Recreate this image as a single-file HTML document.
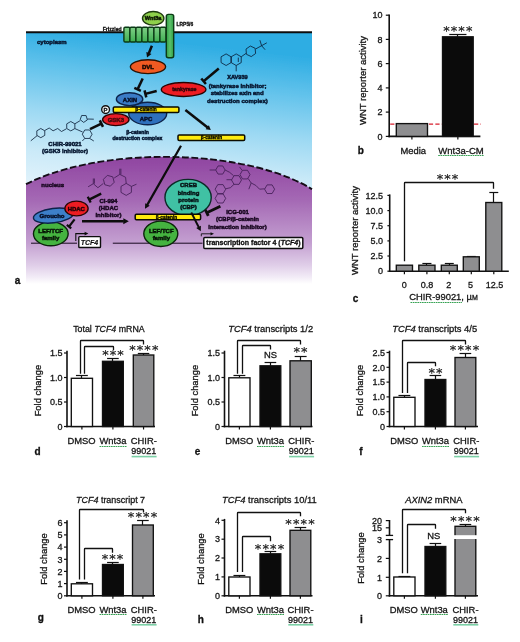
<!DOCTYPE html>
<html lang="en">
<head>
<meta charset="utf-8">
<title>WNT signalling and TCF4 transcripts</title>
<style>
html,body{margin:0;padding:0;background:#fff;}
body{width:520px;height:642px;overflow:hidden;}
svg{display:block;font-family:"Liberation Sans", sans-serif;}
</style>
</head>
<body>
<svg width="520" height="642" viewBox="0 0 520 642">
<rect x="0" y="0" width="520" height="642" fill="#ffffff"/>
<defs>
<linearGradient id="gCyto" x1="0.2" y1="0" x2="0" y2="1">
<stop offset="0" stop-color="#2eade3"/><stop offset="0.25" stop-color="#66c4ec"/><stop offset="0.5" stop-color="#9dd9f3"/><stop offset="0.75" stop-color="#cbeaf8"/><stop offset="1" stop-color="#e7f5fc"/>
</linearGradient>
<linearGradient id="gNuc" x1="0" y1="156" x2="0" y2="284" gradientUnits="userSpaceOnUse">
<stop offset="0" stop-color="#8f44a0"/><stop offset="0.34" stop-color="#a468b4"/><stop offset="0.68" stop-color="#c4a0d1"/><stop offset="0.85" stop-color="#dfcde8"/><stop offset="0.95" stop-color="#f3edf7"/><stop offset="1" stop-color="#ffffff"/>
</linearGradient>
<linearGradient id="gLrp" x1="0" y1="0" x2="1" y2="0">
<stop offset="0" stop-color="#2f9e44"/><stop offset="0.5" stop-color="#5cc06a"/><stop offset="1" stop-color="#2f9e44"/>
</linearGradient>
<linearGradient id="gFz" x1="0" y1="0" x2="0" y2="1">
<stop offset="0" stop-color="#7fcf86"/><stop offset="1" stop-color="#3fae52"/>
</linearGradient>
<filter id="soft" x="-5%" y="-5%" width="110%" height="110%"><feGaussianBlur stdDeviation="0.4"/></filter>
</defs>
<g id="panel-a" filter="url(#soft)">
<rect x="26" y="32" width="286" height="160" fill="url(#gCyto)"/>
<path d="M26 184.2 A175 70.2 0 0 1 312 189.2 L312 284 L26 284 Z" fill="url(#gNuc)"/>
<path d="M26 184.2 A175 70.2 0 0 1 312 189.2" fill="none" stroke="#140c18" stroke-width="1.9" stroke-dasharray="6.8 2.6"/>
<line x1="26" y1="32.2" x2="312" y2="32.2" stroke="#0c0c0c" stroke-width="1.9" />
<rect x="123.90" y="27.2" width="6.1" height="14.8" rx="1.3" fill="url(#gFz)" stroke="#0c3a14" stroke-width="1.4"/>
<rect x="129.90" y="27.2" width="6.1" height="14.8" rx="1.3" fill="url(#gFz)" stroke="#0c3a14" stroke-width="1.4"/>
<rect x="135.90" y="27.2" width="6.1" height="14.8" rx="1.3" fill="url(#gFz)" stroke="#0c3a14" stroke-width="1.4"/>
<rect x="141.90" y="27.2" width="6.1" height="14.8" rx="1.3" fill="url(#gFz)" stroke="#0c3a14" stroke-width="1.4"/>
<rect x="147.90" y="27.2" width="6.1" height="14.8" rx="1.3" fill="url(#gFz)" stroke="#0c3a14" stroke-width="1.4"/>
<rect x="153.90" y="27.2" width="6.1" height="14.8" rx="1.3" fill="url(#gFz)" stroke="#0c3a14" stroke-width="1.4"/>
<rect x="159.90" y="27.2" width="6.1" height="14.8" rx="1.3" fill="url(#gFz)" stroke="#0c3a14" stroke-width="1.4"/>
<rect x="166.3" y="14.4" width="7.4" height="43.4" rx="2" fill="url(#gLrp)" stroke="#0c3a14" stroke-width="1.4"/>
<ellipse cx="153.2" cy="18.3" rx="10.7" ry="6.8" fill="#8ed04b" stroke="#1f3a0e" stroke-width="1.4"/>
<text x="153.1" y="20" font-size="5.6" text-anchor="middle" font-weight="bold" fill="#0e1a04" stroke="#0e1a04" stroke-width="0.5">Wnt3a</text>
<text x="121.6" y="30.6" font-size="5.1" text-anchor="end" font-weight="bold" fill="#111" stroke="#111" stroke-width="0.3">Frizzled</text>
<text x="176.6" y="26.4" font-size="4.9" text-anchor="start" font-weight="bold" fill="#111" stroke="#111" stroke-width="0.3">LRP5/6</text>
<text x="37" y="44" font-size="6" text-anchor="start" font-weight="bold" fill="#081a34" stroke="#081a34" stroke-width="0.5">cytoplasm</text>
<line x1="151.9" y1="45.8" x2="148.73" y2="53.44" stroke="#0c0c0c" stroke-width="2.5" />
<polygon points="147.00,57.60 146.33,51.91 151.50,54.06" fill="#0c0c0c"/>
<ellipse cx="148" cy="66.7" rx="17.6" ry="6.9" fill="#f15a22" stroke="#2a1206" stroke-width="1.4"/>
<text x="148" y="68.8" font-size="6" text-anchor="middle" font-weight="bold" fill="#1c0a02" stroke="#1c0a02" stroke-width="0.5">DVL</text>
<line x1="142.7" y1="78.5" x2="137.6" y2="89.4" stroke="#0c0c0c" stroke-width="2.5" />
<line x1="134.34" y1="87.87" x2="140.86" y2="90.93" stroke="#0c0c0c" stroke-width="2.5" />
<ellipse cx="183.6" cy="89.5" rx="22.3" ry="7.0" fill="#ed1c24" stroke="#2a0606" stroke-width="1.4"/>
<text x="184.4" y="91.2" font-size="5.2" text-anchor="middle" font-weight="bold" fill="#3a0608" stroke="#3a0608" stroke-width="0.5">tankyrase</text>
<line x1="156.7" y1="91" x2="145.4" y2="93.9" stroke="#0c0c0c" stroke-width="2.5" />
<line x1="144.51" y1="90.41" x2="146.29" y2="97.39" stroke="#0c0c0c" stroke-width="2.5" />
<ellipse cx="147.7" cy="113.5" rx="19.0" ry="11.3" fill="#2e6fbd" stroke="#0c2248" stroke-width="1.4"/>
<ellipse cx="129.6" cy="99.2" rx="13.2" ry="6.4" fill="#3b7cc6" stroke="#0c2248" stroke-width="1.4"/>
<text x="130" y="101.5" font-size="6" text-anchor="middle" font-weight="bold" fill="#06122a" stroke="#06122a" stroke-width="0.5">AXIN</text>
<text x="146" y="120.7" font-size="6" text-anchor="middle" font-weight="bold" fill="#06122a" stroke="#06122a" stroke-width="0.5">APC</text>
<ellipse cx="115.8" cy="119.6" rx="13.2" ry="6.0" fill="#e81f27" stroke="#2a0606" stroke-width="1.4"/>
<text x="115.8" y="121.8" font-size="6" text-anchor="middle" font-weight="bold" fill="#4a080c" stroke="#4a080c" stroke-width="0.5">GSK3</text>
<rect x="113.3" y="106.9" width="65.60000000000001" height="5.599999999999994" fill="#ffeb0a" stroke="#0a0a00" stroke-width="1.5" rx="1.2"/>
<text x="146" y="111.4" font-size="4.8" text-anchor="middle" font-weight="bold" fill="#0c0c00" stroke="#0c0c00" stroke-width="0.3">β-catenin</text>
<ellipse cx="105.6" cy="109.6" rx="3.9" ry="3.9" fill="#fff" stroke="#111" stroke-width="1.4"/>
<text x="105.6" y="111.8" font-size="6" text-anchor="middle" font-weight="bold" fill="#111" stroke="#111" stroke-width="0.3">P</text>
<text x="137.6" y="133.6" font-size="5.1" text-anchor="middle" font-weight="bold" fill="#081a34" stroke="#081a34" stroke-width="0.5">β-catenin</text>
<text x="137.4" y="140" font-size="5.1" text-anchor="middle" font-weight="bold" fill="#081a34" stroke="#081a34" stroke-width="0.5">destruction complex</text>
<text x="65" y="145.9" font-size="6" text-anchor="middle" font-weight="bold" fill="#081a34" stroke="#081a34" stroke-width="0.5">CHIR-99021</text>
<text x="65" y="152.9" font-size="6" text-anchor="middle" font-weight="bold" fill="#081a34" stroke="#081a34" stroke-width="0.5">(GSK3 inhibitor)</text>
<line x1="90" y1="129.2" x2="101.4" y2="123.6" stroke="#0c0c0c" stroke-width="2.5" />
<line x1="102.99" y1="126.83" x2="99.81" y2="120.37" stroke="#0c0c0c" stroke-width="2.5" />
<text x="237.4" y="79.3" font-size="5.6" text-anchor="middle" font-weight="bold" fill="#081a34" stroke="#081a34" stroke-width="0.5">XAV939</text>
<text x="237.6" y="88.2" font-size="6" text-anchor="middle" font-weight="bold" fill="#081a34" stroke="#081a34" stroke-width="0.5">(tankyrase inhibitor;</text>
<text x="237.2" y="94.8" font-size="6" text-anchor="middle" font-weight="bold" fill="#081a34" stroke="#081a34" stroke-width="0.5">stabilizes axin and</text>
<text x="237.4" y="102.5" font-size="6" text-anchor="middle" font-weight="bold" fill="#081a34" stroke="#081a34" stroke-width="0.5">destruction complex)</text>
<line x1="218.8" y1="68.5" x2="203.6" y2="81.2" stroke="#0c0c0c" stroke-width="2.5" />
<line x1="201.29" y1="78.44" x2="205.91" y2="83.96" stroke="#0c0c0c" stroke-width="2.5" />
<line x1="185.4" y1="110" x2="207.66" y2="127.53" stroke="#0c0c0c" stroke-width="2.5" />
<polygon points="210.80,130.00 205.66,129.26 208.87,125.17" fill="#0c0c0c"/>
<rect x="178" y="134.9" width="66.69999999999999" height="5.599999999999994" fill="#ffeb0a" stroke="#0a0a00" stroke-width="1.5" rx="1.2"/>
<text x="211.5" y="139.4" font-size="4.8" text-anchor="middle" font-weight="bold" fill="#0c0c00" stroke="#0c0c00" stroke-width="0.3">β-catenin</text>
<line x1="181" y1="145.8" x2="147.23" y2="204.89" stroke="#0c0c0c" stroke-width="2.2" />
<polygon points="145.00,208.80 145.22,203.17 149.74,205.75" fill="#0c0c0c"/>
<text x="41.3" y="186.6" font-size="6" text-anchor="start" font-weight="bold" fill="#1c0a24" stroke="#1c0a24" stroke-width="0.5">nucleus</text>
<line x1="31" y1="243.2" x2="77" y2="243.2" stroke="#1a0a20" stroke-width="1.0" />
<line x1="112.8" y1="243.2" x2="202.5" y2="243.2" stroke="#1a0a20" stroke-width="1.0" />
<ellipse cx="50.8" cy="233.8" rx="17.35" ry="11.95" fill="#45b340" stroke="#0a240a" stroke-width="1.4"/>
<ellipse cx="53.5" cy="215.6" rx="20.2" ry="7.2" fill="#3c7fc9" stroke="#0c2248" stroke-width="1.4" transform="rotate(-7 53.5 215.6)"/>
<ellipse cx="76.5" cy="208.5" rx="11.6" ry="7.4" fill="#ed1c24" stroke="#2a0606" stroke-width="1.4"/>
<text x="76.3" y="210.5" font-size="6" text-anchor="middle" font-weight="bold" fill="#2a0406" stroke="#2a0406" stroke-width="0.5">HDAC</text>
<text x="52" y="218.2" font-size="6" text-anchor="middle" font-weight="bold" fill="#06122a" stroke="#06122a" stroke-width="0.5">Groucho</text>
<text x="50.6" y="232.6" font-size="6" text-anchor="middle" font-weight="bold" fill="#061606" stroke="#061606" stroke-width="0.5">LEF/TCF</text>
<text x="50.6" y="239.8" font-size="6" text-anchor="middle" font-weight="bold" fill="#061606" stroke="#061606" stroke-width="0.5">family</text>
<line x1="101.2" y1="193.6" x2="89.2" y2="199.6" stroke="#0c0c0c" stroke-width="2.3" />
<line x1="87.77" y1="196.74" x2="90.63" y2="202.46" stroke="#0c0c0c" stroke-width="2.3" />
<line x1="74.6" y1="219.4" x2="69" y2="226.6" stroke="#0c0c0c" stroke-width="2.2" />
<line x1="66.79" y1="224.88" x2="71.21" y2="228.32" stroke="#0c0c0c" stroke-width="2.2" />
<rect x="78.8" y="236.6" width="21.700000000000003" height="10.900000000000006" fill="#fff" stroke="#111" stroke-width="1.4" rx="0.8"/>
<text x="89.4" y="244.7" font-size="7" text-anchor="middle" font-weight="bold" font-style="italic" fill="#111" stroke="#111" stroke-width="0.15">TCF4</text>
<path d="M75.8 241 V233.6 H85.5" fill="none" stroke="#111" stroke-width="1.1"/>
<polygon points="88.4,233.6 84.6,231.8 84.6,235.4" fill="#111"/>
<line x1="82" y1="221.3" x2="123.8" y2="221.3" stroke="#0c0c0c" stroke-width="2.5" />
<polygon points="128.80,221.30 123.30,224.30 123.30,218.30" fill="#0c0c0c"/>
<text x="108.4" y="202.6" font-size="6" text-anchor="middle" font-weight="bold" fill="#1c0a24" stroke="#1c0a24" stroke-width="0.5">CI-994</text>
<text x="108.4" y="210" font-size="6" text-anchor="middle" font-weight="bold" fill="#1c0a24" stroke="#1c0a24" stroke-width="0.5">(HDAC</text>
<text x="108.4" y="217.4" font-size="6" text-anchor="middle" font-weight="bold" fill="#1c0a24" stroke="#1c0a24" stroke-width="0.5">inhibitor)</text>
<ellipse cx="160.8" cy="233.8" rx="17.0" ry="12.7" fill="#45b340" stroke="#0a240a" stroke-width="1.4"/>
<text x="161.3" y="232.6" font-size="6" text-anchor="middle" font-weight="bold" fill="#061606" stroke="#061606" stroke-width="0.5">LEF/TCF</text>
<text x="161.3" y="239.8" font-size="6" text-anchor="middle" font-weight="bold" fill="#061606" stroke="#061606" stroke-width="0.5">family</text>
<ellipse cx="188.1" cy="197.5" rx="23.15" ry="18.15" fill="#3fc1a4" stroke="#0c2c28" stroke-width="1.4"/>
<text x="188.5" y="187.1" font-size="6" text-anchor="middle" font-weight="bold" fill="#06181a" stroke="#06181a" stroke-width="0.5">CREB</text>
<text x="188.5" y="194.6" font-size="6" text-anchor="middle" font-weight="bold" fill="#06181a" stroke="#06181a" stroke-width="0.5">binding</text>
<text x="188.5" y="202.1" font-size="6" text-anchor="middle" font-weight="bold" fill="#06181a" stroke="#06181a" stroke-width="0.5">protein</text>
<text x="188.5" y="209.1" font-size="6" text-anchor="middle" font-weight="bold" fill="#06181a" stroke="#06181a" stroke-width="0.5">(CBP)</text>
<rect x="135.2" y="214.2" width="65.4" height="5.5" fill="#ffeb0a" stroke="#0a0a00" stroke-width="1.5" rx="1.2"/>
<text x="166.5" y="218.8" font-size="4.8" text-anchor="middle" font-weight="bold" fill="#0c0c00" stroke="#0c0c00" stroke-width="0.3">β-catenin</text>
<line x1="191.3" y1="212.5" x2="198.77" y2="227.28" stroke="#0c0c0c" stroke-width="1.9" />
<polygon points="200.80,231.30 196.22,228.01 200.87,225.66" fill="#0c0c0c"/>
<line x1="220.4" y1="206.2" x2="206.8" y2="212.8" stroke="#0c0c0c" stroke-width="2.8" />
<line x1="205.32" y1="209.74" x2="208.28" y2="215.86" stroke="#0c0c0c" stroke-width="2.8" />
<text x="237.5" y="213.9" font-size="6" text-anchor="middle" font-weight="bold" fill="#1c0a24" stroke="#1c0a24" stroke-width="0.5">ICG-001</text>
<text x="237.5" y="221.4" font-size="6" text-anchor="middle" font-weight="bold" fill="#1c0a24" stroke="#1c0a24" stroke-width="0.5">(CBP/β-catenin</text>
<text x="237.5" y="228.9" font-size="6" text-anchor="middle" font-weight="bold" fill="#1c0a24" stroke="#1c0a24" stroke-width="0.5">interaction inhibitor)</text>
<rect x="203.8" y="237.4" width="99.0" height="11.0" fill="#fff" stroke="#111" stroke-width="1.5" rx="1"/>
<text x="253.4" y="245.3" font-size="7" text-anchor="middle" font-weight="bold" stroke="#111" stroke-width="0.3" fill="#111" >transcription factor 4 (<tspan font-style="italic">TCF4</tspan>)</text>
<path d="M201.3 236.3 V233.8 H211" fill="none" stroke="#111" stroke-width="0.9"/>
<polygon points="214,233.8 210.5,232.2 210.5,235.4" fill="#111"/>
<polygon points="44.78,135.40 40.80,137.70 36.82,135.40 36.82,130.80 40.80,128.50 44.78,130.80" fill="none" stroke="#081a34" stroke-width="0.8"/>
<polyline points="37.2,135.6 30.8,140.8" fill="none" stroke="#081a34" stroke-width="0.8"/>
<polyline points="44.6,130.6 49.2,128 53.1,130.8 57.7,128.5 61.5,131.5 66.4,128.8" fill="none" stroke="#081a34" stroke-width="0.8"/>
<polygon points="74.87,128.55 70.80,130.90 66.73,128.55 66.73,123.85 70.80,121.50 74.87,123.85" fill="none" stroke="#081a34" stroke-width="0.8"/>
<polyline points="74.9,123.8 80.2,120.6" fill="none" stroke="#081a34" stroke-width="0.8"/>
<polygon points="87.37,119.90 83.67,122.40 80.15,119.65 81.68,115.45 86.14,115.61" fill="none" stroke="#081a34" stroke-width="0.8"/>
<polyline points="87.4,119 93.8,119.2" fill="none" stroke="#081a34" stroke-width="0.8"/>
<polyline points="74.9,128.6 82.6,132" fill="none" stroke="#081a34" stroke-width="0.8"/>
<polygon points="92.10,134.20 89.65,138.44 84.75,138.44 82.30,134.20 84.75,129.96 89.65,129.96" fill="none" stroke="#081a34" stroke-width="0.8"/>
<polyline points="89.6,138.4 93.8,141" fill="none" stroke="#081a34" stroke-width="0.8"/>
<polyline points="84.8,138.4 82.3,141" fill="none" stroke="#081a34" stroke-width="0.8"/>
<polygon points="231.12,62.60 226.10,65.50 221.08,62.60 221.08,56.80 226.10,53.90 231.12,56.80" fill="none" stroke="#081a34" stroke-width="0.8"/>
<polygon points="241.22,62.60 236.20,65.50 231.18,62.60 231.18,56.80 236.20,53.90 241.22,56.80" fill="none" stroke="#081a34" stroke-width="0.8"/>
<polyline points="236.2,65.5 236.2,71.3" fill="none" stroke="#081a34" stroke-width="0.8"/>
<polyline points="241.2,56.8 246,53.4" fill="none" stroke="#081a34" stroke-width="0.8"/>
<polygon points="255.60,53.54 251.26,56.58 246.46,54.34 246.00,49.06 250.34,46.02 255.14,48.26" fill="none" stroke="#081a34" stroke-width="0.8"/>
<polyline points="238.3,57.6 238.3,62" fill="none" stroke="#081a34" stroke-width="0.8"/>
<polyline points="255.6,49 261.6,45.7" fill="none" stroke="#081a34" stroke-width="0.8"/>
<polyline points="261.6,45.7 259.9,40.2" fill="none" stroke="#081a34" stroke-width="0.8"/>
<polyline points="261.6,45.7 266.8,42.8" fill="none" stroke="#081a34" stroke-width="0.8"/>
<polyline points="261.6,45.7 265.1,49.7" fill="none" stroke="#081a34" stroke-width="0.8"/>
<polyline points="88.1,186.8 93.3,183.7 97.9,187.7 103.4,183.4" fill="none" stroke="#3d1a50" stroke-width="0.8"/>
<polyline points="93.3,183.7 93.3,178.5" fill="none" stroke="#3d1a50" stroke-width="0.8"/>
<polyline points="94.4,183.7 94.4,178.5" fill="none" stroke="#3d1a50" stroke-width="0.8"/>
<polygon points="114.21,182.25 110.25,186.21 104.84,184.76 103.39,179.35 107.35,175.39 112.76,176.84" fill="none" stroke="#3d1a50" stroke-width="0.8"/>
<polyline points="114.2,178 119.8,174.4 125.6,177.3 126.2,183.4" fill="none" stroke="#3d1a50" stroke-width="0.8"/>
<polyline points="119.8,174.4 119.8,168.7" fill="none" stroke="#3d1a50" stroke-width="0.8"/>
<polyline points="120.9,174.4 120.9,168.7" fill="none" stroke="#3d1a50" stroke-width="0.8"/>
<polygon points="131.40,192.40 126.20,195.40 121.00,192.40 121.00,186.40 126.20,183.40 131.40,186.40" fill="none" stroke="#3d1a50" stroke-width="0.8"/>
<polyline points="131.4,186.4 136.5,184.2" fill="none" stroke="#3d1a50" stroke-width="0.8"/>
<polygon points="225.10,170.00 222.75,174.07 218.05,174.07 215.70,170.00 218.05,165.93 222.75,165.93" fill="none" stroke="#3d1a50" stroke-width="0.8"/>
<polyline points="215.7,170 209.6,170" fill="none" stroke="#3d1a50" stroke-width="0.8"/>
<polyline points="225.1,170 229.6,172.3 233.5,175.6" fill="none" stroke="#3d1a50" stroke-width="0.8"/>
<polygon points="241.50,180.00 239.00,184.33 234.00,184.33 231.50,180.00 234.00,175.67 239.00,175.67" fill="none" stroke="#3d1a50" stroke-width="0.8"/>
<polygon points="250.00,174.60 247.50,178.93 242.50,178.93 240.00,174.60 242.50,170.27 247.50,170.27" fill="none" stroke="#3d1a50" stroke-width="0.8"/>
<polyline points="231.5,179.7 226.5,179.7" fill="none" stroke="#3d1a50" stroke-width="0.8"/>
<polyline points="234,184.3 230.4,187.7 225.7,188.8" fill="none" stroke="#3d1a50" stroke-width="0.8"/>
<polygon points="225.70,189.20 223.05,193.79 217.75,193.79 215.10,189.20 217.75,184.61 223.05,184.61" fill="none" stroke="#3d1a50" stroke-width="0.8"/>
<polygon points="225.70,198.40 223.05,202.99 217.75,202.99 215.10,198.40 217.75,193.81 223.05,193.81" fill="none" stroke="#3d1a50" stroke-width="0.8"/>
<polyline points="242,170.3 239.6,166.9" fill="none" stroke="#3d1a50" stroke-width="0.8"/>
<polyline points="248.2,178.6 251.2,183 255.8,185.4 259.6,189.2 264.6,188.8" fill="none" stroke="#3d1a50" stroke-width="0.8"/>
<polyline points="251.2,183 248.8,189.2" fill="none" stroke="#3d1a50" stroke-width="0.8"/>
<polygon points="274.60,189.20 272.10,193.53 267.10,193.53 264.60,189.20 267.10,184.87 272.10,184.87" fill="none" stroke="#3d1a50" stroke-width="0.8"/>
</g>
<text x="17.6" y="284.3" font-size="10" text-anchor="middle" font-weight="bold" stroke="#111" stroke-width="0.3" fill="#111" >a</text>
<g id="panel-b">
<line x1="390.2" y1="124.1" x2="481" y2="124.1" stroke="#d71f2e" stroke-width="1.4" stroke-dasharray="4.2 2.25"/>
<line x1="389.2" y1="14.6" x2="389.2" y2="137.20000000000002" stroke="#111" stroke-width="1.6" />
<line x1="388.4" y1="136.4" x2="480.4" y2="136.4" stroke="#111" stroke-width="1.6" />
<line x1="385.8" y1="15.2" x2="389.2" y2="15.2" stroke="#111" stroke-width="1.2" />
<text x="382.5" y="18.4" font-size="9" text-anchor="end" stroke="#161616" stroke-width="0.3" fill="#161616" >10</text>
<line x1="385.8" y1="39.4" x2="389.2" y2="39.4" stroke="#111" stroke-width="1.2" />
<text x="382.5" y="42.6" font-size="9" text-anchor="end" stroke="#161616" stroke-width="0.3" fill="#161616" >8</text>
<line x1="385.8" y1="63.6" x2="389.2" y2="63.6" stroke="#111" stroke-width="1.2" />
<text x="382.5" y="66.8" font-size="9" text-anchor="end" stroke="#161616" stroke-width="0.3" fill="#161616" >6</text>
<line x1="385.8" y1="87.9" x2="389.2" y2="87.9" stroke="#111" stroke-width="1.2" />
<text x="382.5" y="91.10000000000001" font-size="9" text-anchor="end" stroke="#161616" stroke-width="0.3" fill="#161616" >4</text>
<line x1="385.8" y1="112.1" x2="389.2" y2="112.1" stroke="#111" stroke-width="1.2" />
<text x="382.5" y="115.3" font-size="9" text-anchor="end" stroke="#161616" stroke-width="0.3" fill="#161616" >2</text>
<line x1="385.8" y1="136.4" x2="389.2" y2="136.4" stroke="#111" stroke-width="1.2" />
<text x="382.5" y="139.6" font-size="9" text-anchor="end" stroke="#161616" stroke-width="0.3" fill="#161616" >0</text>
<rect x="396.3" y="123.6" width="31.19999999999999" height="12.800000000000011" fill="#8e8e90" stroke="#111" stroke-width="1.35" />
<line x1="411.9" y1="136.4" x2="411.9" y2="139.4" stroke="#111" stroke-width="1.2" />
<line x1="457.5" y1="34.0" x2="457.5" y2="36.8" stroke="#111" stroke-width="1.2" />
<line x1="449.254" y1="34.5" x2="466.446" y2="34.5" stroke="#111" stroke-width="1.2" />
<rect x="442.5" y="36.8" width="30.69999999999999" height="99.60000000000001" fill="#0b0b0b" stroke="#111" stroke-width="1.35" />
<line x1="457.85" y1="136.4" x2="457.85" y2="139.4" stroke="#111" stroke-width="1.2" />
<text x="366.3" y="80.5" font-size="9.4" text-anchor="middle" textLength="89" lengthAdjust="spacingAndGlyphs" stroke="#161616" stroke-width="0.3" fill="#161616" transform="rotate(-90 366.3 80.5)">WNT reporter activity</text>
<text x="360.8" y="154" font-size="10" text-anchor="middle" font-weight="bold" stroke="#111" stroke-width="0.3" fill="#111" >b</text>
<text x="458.35" y="35.0" font-family="DejaVu Sans, sans-serif" font-size="13" text-anchor="middle" letter-spacing="1.1" fill="#1c1c1c" stroke="#1c1c1c" stroke-width="0.2">****</text>
<text x="413.3" y="153.6" font-size="9.4" text-anchor="middle" textLength="25.5" lengthAdjust="spacingAndGlyphs" stroke="#161616" stroke-width="0.3" fill="#161616" >Media</text>
<text x="461" y="153.6" font-size="9.4" text-anchor="middle" textLength="45.5" lengthAdjust="spacingAndGlyphs" stroke="#161616" stroke-width="0.3" fill="#161616" >Wnt3a-CM</text>
<line x1="438.2" y1="155.5" x2="483.8" y2="155.5" stroke="#36a253" stroke-width="1.0" stroke-dasharray="1.7 0.6"/>
</g>
<g id="panel-c">
<line x1="389.7" y1="194.4" x2="389.7" y2="272.0" stroke="#111" stroke-width="1.6" />
<line x1="388.9" y1="271.2" x2="508.8" y2="271.2" stroke="#111" stroke-width="1.6" />
<line x1="387.4" y1="195.4" x2="389.7" y2="195.4" stroke="#111" stroke-width="1.2" />
<text x="383.0" y="198.6" font-size="9" text-anchor="end" stroke="#161616" stroke-width="0.3" fill="#161616" >12.5</text>
<line x1="387.4" y1="210.6" x2="389.7" y2="210.6" stroke="#111" stroke-width="1.2" />
<text x="383.0" y="213.79999999999998" font-size="9" text-anchor="end" stroke="#161616" stroke-width="0.3" fill="#161616" >10.0</text>
<line x1="387.4" y1="225.7" x2="389.7" y2="225.7" stroke="#111" stroke-width="1.2" />
<text x="383.0" y="228.89999999999998" font-size="9" text-anchor="end" stroke="#161616" stroke-width="0.3" fill="#161616" >7.5</text>
<line x1="387.4" y1="240.9" x2="389.7" y2="240.9" stroke="#111" stroke-width="1.2" />
<text x="383.0" y="244.1" font-size="9" text-anchor="end" stroke="#161616" stroke-width="0.3" fill="#161616" >5.0</text>
<line x1="387.4" y1="256" x2="389.7" y2="256" stroke="#111" stroke-width="1.2" />
<text x="383.0" y="259.2" font-size="9" text-anchor="end" stroke="#161616" stroke-width="0.3" fill="#161616" >2.5</text>
<line x1="387.4" y1="271.2" x2="389.7" y2="271.2" stroke="#111" stroke-width="1.2" />
<text x="383.0" y="274.4" font-size="9" text-anchor="end" stroke="#161616" stroke-width="0.3" fill="#161616" >0</text>
<rect x="396.3" y="265.2" width="16.19999999999999" height="6.0" fill="#8e8e90" stroke="#111" stroke-width="1.35" />
<line x1="404.4" y1="271.2" x2="404.4" y2="274.2" stroke="#111" stroke-width="1.2" />
<line x1="426.5" y1="263.0" x2="426.5" y2="265.2" stroke="#111" stroke-width="1.2" />
<line x1="422.364" y1="263.5" x2="431.436" y2="263.5" stroke="#111" stroke-width="1.2" />
<rect x="418.8" y="265.2" width="16.19999999999999" height="6.0" fill="#8e8e90" stroke="#111" stroke-width="1.35" />
<line x1="426.9" y1="271.2" x2="426.9" y2="274.2" stroke="#111" stroke-width="1.2" />
<line x1="449.5" y1="263.0" x2="449.5" y2="265.2" stroke="#111" stroke-width="1.2" />
<line x1="444.82" y1="263.5" x2="453.78000000000003" y2="263.5" stroke="#111" stroke-width="1.2" />
<rect x="441.3" y="265.2" width="16.0" height="6.0" fill="#8e8e90" stroke="#111" stroke-width="1.35" />
<line x1="449.3" y1="271.2" x2="449.3" y2="274.2" stroke="#111" stroke-width="1.2" />
<line x1="471.5" y1="256.0" x2="471.5" y2="256.8" stroke="#111" stroke-width="1.2" />
<line x1="466.82" y1="256.5" x2="475.78000000000003" y2="256.5" stroke="#111" stroke-width="1.2" />
<rect x="463.3" y="256.8" width="16.0" height="14.399999999999977" fill="#8e8e90" stroke="#111" stroke-width="1.35" />
<line x1="471.3" y1="271.2" x2="471.3" y2="274.2" stroke="#111" stroke-width="1.2" />
<line x1="493.5" y1="192.0" x2="493.5" y2="202.5" stroke="#111" stroke-width="1.2" />
<line x1="489.32" y1="192.5" x2="498.28000000000003" y2="192.5" stroke="#111" stroke-width="1.2" />
<rect x="485.8" y="202.5" width="16.0" height="68.69999999999999" fill="#8e8e90" stroke="#111" stroke-width="1.35" />
<line x1="493.8" y1="271.2" x2="493.8" y2="274.2" stroke="#111" stroke-width="1.2" />
<text x="358.3" y="230.5" font-size="9.4" text-anchor="middle" textLength="89" lengthAdjust="spacingAndGlyphs" stroke="#161616" stroke-width="0.3" fill="#161616" transform="rotate(-90 358.3 230.5)">WNT reporter activity</text>
<text x="355.5" y="301.5" font-size="10" text-anchor="middle" font-weight="bold" stroke="#111" stroke-width="0.3" fill="#111" >c</text>
<path d="M404.5 261.3 V183.1 Q404.5 182.5 405.1 182.5 H492.9 Q493.5 182.5 493.5 183.1 V188.8" fill="none" stroke="#111" stroke-width="1.3"/>
<text x="448.05" y="182.5" font-family="DejaVu Sans, sans-serif" font-size="13" text-anchor="middle" letter-spacing="1.1" fill="#1c1c1c" stroke="#1c1c1c" stroke-width="0.2">***</text>
<text x="404.3" y="288" font-size="9" text-anchor="middle" stroke="#161616" stroke-width="0.3" fill="#161616" >0</text>
<text x="427" y="288" font-size="9" text-anchor="middle" stroke="#161616" stroke-width="0.3" fill="#161616" >0.8</text>
<text x="448.8" y="288" font-size="9" text-anchor="middle" stroke="#161616" stroke-width="0.3" fill="#161616" >2</text>
<text x="470.5" y="288" font-size="9" text-anchor="middle" stroke="#161616" stroke-width="0.3" fill="#161616" >5</text>
<text x="494.5" y="288" font-size="9" text-anchor="middle" stroke="#161616" stroke-width="0.3" fill="#161616" >12.5</text>
<text x="443.5" y="300.3" font-size="9.4" text-anchor="middle" stroke="#161616" stroke-width="0.3" fill="#161616" >CHIR-99021, µ<tspan font-size="7">M</tspan></text>
<line x1="410.5" y1="302.5" x2="462" y2="302.5" stroke="#36a253" stroke-width="1.0" stroke-dasharray="1.7 0.6"/>
</g>
<g id="panel-d">
<text x="108.9" y="332.2" font-size="9.4" text-anchor="middle" textLength="71.5" lengthAdjust="spacingAndGlyphs" stroke="#161616" stroke-width="0.3" fill="#161616" >Total <tspan font-style="italic">TCF4</tspan> mRNA</text>
<line x1="67" y1="350.7" x2="67" y2="427.3" stroke="#111" stroke-width="1.6" />
<line x1="66.2" y1="426.5" x2="155" y2="426.5" stroke="#111" stroke-width="1.6" />
<line x1="64" y1="353" x2="67" y2="353" stroke="#111" stroke-width="1.2" />
<text x="62.5" y="356.2" font-size="9" text-anchor="end" stroke="#161616" stroke-width="0.3" fill="#161616" >1.5</text>
<line x1="64" y1="377.5" x2="67" y2="377.5" stroke="#111" stroke-width="1.2" />
<text x="62.5" y="380.7" font-size="9" text-anchor="end" stroke="#161616" stroke-width="0.3" fill="#161616" >1.0</text>
<line x1="64" y1="402" x2="67" y2="402" stroke="#111" stroke-width="1.2" />
<text x="62.5" y="405.2" font-size="9" text-anchor="end" stroke="#161616" stroke-width="0.3" fill="#161616" >0.5</text>
<line x1="64" y1="426.5" x2="67" y2="426.5" stroke="#111" stroke-width="1.2" />
<text x="62.5" y="429.7" font-size="9" text-anchor="end" stroke="#161616" stroke-width="0.3" fill="#161616" >0</text>
<line x1="81.5" y1="375.0" x2="81.5" y2="378.3" stroke="#111" stroke-width="1.2" />
<line x1="75.964" y1="375.5" x2="87.83600000000001" y2="375.5" stroke="#111" stroke-width="1.2" />
<rect x="71.3" y="378.3" width="21.200000000000003" height="48.19999999999999" fill="#fff" stroke="#111" stroke-width="1.35" />
<line x1="81.9" y1="426.5" x2="81.9" y2="429.5" stroke="#111" stroke-width="1.2" />
<line x1="112.5" y1="358.0" x2="112.5" y2="361.3" stroke="#111" stroke-width="1.2" />
<line x1="107.07600000000001" y1="358.5" x2="118.724" y2="358.5" stroke="#111" stroke-width="1.2" />
<rect x="102.5" y="361.3" width="20.799999999999997" height="65.19999999999999" fill="#0b0b0b" stroke="#111" stroke-width="1.35" />
<line x1="112.9" y1="426.5" x2="112.9" y2="429.5" stroke="#111" stroke-width="1.2" />
<line x1="143.5" y1="353.0" x2="143.5" y2="355" stroke="#111" stroke-width="1.2" />
<line x1="137.81" y1="353.5" x2="149.29000000000002" y2="353.5" stroke="#111" stroke-width="1.2" />
<rect x="133.3" y="355" width="20.5" height="71.5" fill="#8e8e90" stroke="#111" stroke-width="1.35" />
<line x1="143.55" y1="426.5" x2="143.55" y2="429.5" stroke="#111" stroke-width="1.2" />
<text x="41" y="390.6" font-size="9.4" text-anchor="middle" textLength="51.5" lengthAdjust="spacingAndGlyphs" stroke="#161616" stroke-width="0.3" fill="#161616" transform="rotate(-90 41 390.6)">Fold change</text>
<text x="37.5" y="454.5" font-size="10" text-anchor="middle" font-weight="bold" stroke="#111" stroke-width="0.3" fill="#111" >d</text>
<path d="M80.5 373.8 V341.1 Q80.5 340.5 81.1 340.5 H142.9 Q143.5 340.5 143.5 341.1 V344.5" fill="none" stroke="#111" stroke-width="1.3"/>
<path d="M84.5 373.8 V347.1 Q84.5 346.5 85.1 346.5 H112.9 Q113.5 346.5 113.5 347.1 V350" fill="none" stroke="#111" stroke-width="1.3"/>
<text x="113.55" y="359.0" font-family="DejaVu Sans, sans-serif" font-size="13" text-anchor="middle" letter-spacing="1.1" fill="#1c1c1c" stroke="#1c1c1c" stroke-width="0.2">***</text>
<text x="144.35000000000002" y="354.3" font-family="DejaVu Sans, sans-serif" font-size="13" text-anchor="middle" letter-spacing="1.1" fill="#1c1c1c" stroke="#1c1c1c" stroke-width="0.2">****</text>
<text x="81.5" y="444.3" font-size="9.4" text-anchor="middle" stroke="#161616" stroke-width="0.3" fill="#161616" >DMSO</text>
<text x="113" y="444.3" font-size="9.4" text-anchor="middle" stroke="#161616" stroke-width="0.3" fill="#161616" >Wnt3a</text>
<text x="143.8" y="444.3" font-size="9.4" text-anchor="middle" stroke="#161616" stroke-width="0.3" fill="#161616" >CHIR-</text>
<text x="143.8" y="454.4" font-size="9" text-anchor="middle" stroke="#161616" stroke-width="0.3" fill="#161616" >99021</text>
<line x1="99.5" y1="446.5" x2="126.5" y2="446.5" stroke="#36a253" stroke-width="1.0" stroke-dasharray="1.7 0.6"/>
<line x1="131.60000000000002" y1="456.59999999999997" x2="156.60000000000002" y2="456.59999999999997" stroke="#7bd0a6" stroke-width="1.6" />
</g>
<g id="panel-e">
<text x="270.7" y="332" font-size="9.4" text-anchor="middle" stroke="#161616" stroke-width="0.3" fill="#161616" ><tspan font-style="italic">TCF4</tspan> transcripts 1/2</text>
<line x1="224.5" y1="350.7" x2="224.5" y2="427.3" stroke="#111" stroke-width="1.6" />
<line x1="223.7" y1="426.5" x2="312.5" y2="426.5" stroke="#111" stroke-width="1.6" />
<line x1="221.5" y1="353" x2="224.5" y2="353" stroke="#111" stroke-width="1.2" />
<text x="220.0" y="356.2" font-size="9" text-anchor="end" stroke="#161616" stroke-width="0.3" fill="#161616" >1.5</text>
<line x1="221.5" y1="377.5" x2="224.5" y2="377.5" stroke="#111" stroke-width="1.2" />
<text x="220.0" y="380.7" font-size="9" text-anchor="end" stroke="#161616" stroke-width="0.3" fill="#161616" >1.0</text>
<line x1="221.5" y1="402" x2="224.5" y2="402" stroke="#111" stroke-width="1.2" />
<text x="220.0" y="405.2" font-size="9" text-anchor="end" stroke="#161616" stroke-width="0.3" fill="#161616" >0.5</text>
<line x1="221.5" y1="426.5" x2="224.5" y2="426.5" stroke="#111" stroke-width="1.2" />
<text x="220.0" y="429.7" font-size="9" text-anchor="end" stroke="#161616" stroke-width="0.3" fill="#161616" >0</text>
<line x1="239.5" y1="375.0" x2="239.5" y2="377.8" stroke="#111" stroke-width="1.2" />
<line x1="233.464" y1="375.5" x2="245.336" y2="375.5" stroke="#111" stroke-width="1.2" />
<rect x="228.8" y="377.8" width="21.19999999999999" height="48.69999999999999" fill="#fff" stroke="#111" stroke-width="1.35" />
<line x1="239.4" y1="426.5" x2="239.4" y2="429.5" stroke="#111" stroke-width="1.2" />
<line x1="270.5" y1="362.0" x2="270.5" y2="365.8" stroke="#111" stroke-width="1.2" />
<line x1="264.57599999999996" y1="362.5" x2="276.224" y2="362.5" stroke="#111" stroke-width="1.2" />
<rect x="260" y="365.8" width="20.80000000000001" height="60.69999999999999" fill="#0b0b0b" stroke="#111" stroke-width="1.35" />
<line x1="270.4" y1="426.5" x2="270.4" y2="429.5" stroke="#111" stroke-width="1.2" />
<line x1="300.5" y1="356.0" x2="300.5" y2="360.8" stroke="#111" stroke-width="1.2" />
<line x1="294.686" y1="356.5" x2="306.614" y2="356.5" stroke="#111" stroke-width="1.2" />
<rect x="290" y="360.8" width="21.30000000000001" height="65.69999999999999" fill="#8e8e90" stroke="#111" stroke-width="1.35" />
<line x1="300.65" y1="426.5" x2="300.65" y2="429.5" stroke="#111" stroke-width="1.2" />
<text x="198.5" y="390.6" font-size="9.4" text-anchor="middle" textLength="51.5" lengthAdjust="spacingAndGlyphs" stroke="#161616" stroke-width="0.3" fill="#161616" transform="rotate(-90 198.5 390.6)">Fold change</text>
<text x="197.5" y="454.5" font-size="10" text-anchor="middle" font-weight="bold" stroke="#111" stroke-width="0.3" fill="#111" >e</text>
<path d="M237.5 373.8 V341.1 Q237.5 340.5 238.1 340.5 H299.9 Q300.5 340.5 300.5 341.1 V344.5" fill="none" stroke="#111" stroke-width="1.3"/>
<path d="M242.5 373.8 V346.1 Q242.5 345.5 243.1 345.5 H269.9 Q270.5 345.5 270.5 346.1 V349.5" fill="none" stroke="#111" stroke-width="1.3"/>
<text x="270.5" y="358.1" font-size="9.4" text-anchor="middle" stroke="#161616" stroke-width="0.3" fill="#161616" >NS</text>
<text x="301.05" y="355.8" font-family="DejaVu Sans, sans-serif" font-size="13" text-anchor="middle" letter-spacing="1.1" fill="#1c1c1c" stroke="#1c1c1c" stroke-width="0.2">**</text>
<text x="239.3" y="444.3" font-size="9.4" text-anchor="middle" stroke="#161616" stroke-width="0.3" fill="#161616" >DMSO</text>
<text x="270.5" y="444.3" font-size="9.4" text-anchor="middle" stroke="#161616" stroke-width="0.3" fill="#161616" >Wnt3a</text>
<text x="301.3" y="444.3" font-size="9.4" text-anchor="middle" stroke="#161616" stroke-width="0.3" fill="#161616" >CHIR-</text>
<text x="301.3" y="454.4" font-size="9" text-anchor="middle" stroke="#161616" stroke-width="0.3" fill="#161616" >99021</text>
<line x1="257.0" y1="446.5" x2="284.0" y2="446.5" stroke="#36a253" stroke-width="1.0" stroke-dasharray="1.7 0.6"/>
<line x1="289.1" y1="456.59999999999997" x2="314.1" y2="456.59999999999997" stroke="#7bd0a6" stroke-width="1.6" />
</g>
<g id="panel-f">
<text x="434.7" y="332" font-size="9.4" text-anchor="middle" stroke="#161616" stroke-width="0.3" fill="#161616" ><tspan font-style="italic">TCF4</tspan> transcripts 4/5</text>
<line x1="389.5" y1="350.7" x2="389.5" y2="427.3" stroke="#111" stroke-width="1.6" />
<line x1="388.7" y1="426.5" x2="478" y2="426.5" stroke="#111" stroke-width="1.6" />
<line x1="386.5" y1="352.5" x2="389.5" y2="352.5" stroke="#111" stroke-width="1.2" />
<text x="385.0" y="355.7" font-size="9" text-anchor="end" stroke="#161616" stroke-width="0.3" fill="#161616" >2.5</text>
<line x1="386.5" y1="367.3" x2="389.5" y2="367.3" stroke="#111" stroke-width="1.2" />
<text x="385.0" y="370.5" font-size="9" text-anchor="end" stroke="#161616" stroke-width="0.3" fill="#161616" >2.0</text>
<line x1="386.5" y1="382.1" x2="389.5" y2="382.1" stroke="#111" stroke-width="1.2" />
<text x="385.0" y="385.3" font-size="9" text-anchor="end" stroke="#161616" stroke-width="0.3" fill="#161616" >1.5</text>
<line x1="386.5" y1="396.9" x2="389.5" y2="396.9" stroke="#111" stroke-width="1.2" />
<text x="385.0" y="400.09999999999997" font-size="9" text-anchor="end" stroke="#161616" stroke-width="0.3" fill="#161616" >1.0</text>
<line x1="386.5" y1="411.7" x2="389.5" y2="411.7" stroke="#111" stroke-width="1.2" />
<text x="385.0" y="414.9" font-size="9" text-anchor="end" stroke="#161616" stroke-width="0.3" fill="#161616" >0.5</text>
<line x1="386.5" y1="426.5" x2="389.5" y2="426.5" stroke="#111" stroke-width="1.2" />
<text x="385.0" y="429.7" font-size="9" text-anchor="end" stroke="#161616" stroke-width="0.3" fill="#161616" >0</text>
<line x1="404.5" y1="395.0" x2="404.5" y2="397.3" stroke="#111" stroke-width="1.2" />
<line x1="398.464" y1="395.5" x2="410.33599999999996" y2="395.5" stroke="#111" stroke-width="1.2" />
<rect x="393.8" y="397.3" width="21.19999999999999" height="29.19999999999999" fill="#fff" stroke="#111" stroke-width="1.35" />
<line x1="404.4" y1="426.5" x2="404.4" y2="429.5" stroke="#111" stroke-width="1.2" />
<line x1="435.5" y1="375.0" x2="435.5" y2="379.5" stroke="#111" stroke-width="1.2" />
<line x1="429.57599999999996" y1="375.5" x2="441.224" y2="375.5" stroke="#111" stroke-width="1.2" />
<rect x="425" y="379.5" width="20.80000000000001" height="47.0" fill="#0b0b0b" stroke="#111" stroke-width="1.35" />
<line x1="435.4" y1="426.5" x2="435.4" y2="429.5" stroke="#111" stroke-width="1.2" />
<line x1="465.5" y1="353.0" x2="465.5" y2="357.5" stroke="#111" stroke-width="1.2" />
<line x1="459.57599999999996" y1="353.5" x2="471.224" y2="353.5" stroke="#111" stroke-width="1.2" />
<rect x="455" y="357.5" width="20.80000000000001" height="69.0" fill="#8e8e90" stroke="#111" stroke-width="1.35" />
<line x1="465.4" y1="426.5" x2="465.4" y2="429.5" stroke="#111" stroke-width="1.2" />
<text x="363" y="390.6" font-size="9.4" text-anchor="middle" textLength="51.5" lengthAdjust="spacingAndGlyphs" stroke="#161616" stroke-width="0.3" fill="#161616" transform="rotate(-90 363 390.6)">Fold change</text>
<text x="360.8" y="454.5" font-size="10" text-anchor="middle" font-weight="bold" stroke="#111" stroke-width="0.3" fill="#111" >f</text>
<path d="M402.5 393 V341.1 Q402.5 340.5 403.1 340.5 H464.9 Q465.5 340.5 465.5 341.1 V344.5" fill="none" stroke="#111" stroke-width="1.3"/>
<path d="M407.5 393 V363.1 Q407.5 362.5 408.1 362.5 H434.9 Q435.5 362.5 435.5 363.1 V366.3" fill="none" stroke="#111" stroke-width="1.3"/>
<text x="436.05" y="377.0" font-family="DejaVu Sans, sans-serif" font-size="13" text-anchor="middle" letter-spacing="1.1" fill="#1c1c1c" stroke="#1c1c1c" stroke-width="0.2">**</text>
<text x="465.05" y="354.3" font-family="DejaVu Sans, sans-serif" font-size="13" text-anchor="middle" letter-spacing="1.1" fill="#1c1c1c" stroke="#1c1c1c" stroke-width="0.2">****</text>
<text x="404.3" y="444.3" font-size="9.4" text-anchor="middle" stroke="#161616" stroke-width="0.3" fill="#161616" >DMSO</text>
<text x="435.5" y="444.3" font-size="9.4" text-anchor="middle" stroke="#161616" stroke-width="0.3" fill="#161616" >Wnt3a</text>
<text x="466.3" y="444.3" font-size="9.4" text-anchor="middle" stroke="#161616" stroke-width="0.3" fill="#161616" >CHIR-</text>
<text x="466.3" y="454.4" font-size="9" text-anchor="middle" stroke="#161616" stroke-width="0.3" fill="#161616" >99021</text>
<line x1="422.0" y1="446.5" x2="449.0" y2="446.5" stroke="#36a253" stroke-width="1.0" stroke-dasharray="1.7 0.6"/>
<line x1="454.1" y1="456.59999999999997" x2="479.1" y2="456.59999999999997" stroke="#7bd0a6" stroke-width="1.6" />
</g>
<g id="panel-g">
<text x="110.6" y="502.7" font-size="9.4" text-anchor="middle" textLength="69" lengthAdjust="spacingAndGlyphs" stroke="#161616" stroke-width="0.3" fill="#161616" ><tspan font-style="italic">TCF4</tspan> transcript 7</text>
<line x1="67" y1="520.1999999999999" x2="67" y2="596.5999999999999" stroke="#111" stroke-width="1.6" />
<line x1="66.2" y1="595.8" x2="155" y2="595.8" stroke="#111" stroke-width="1.6" />
<line x1="64" y1="522.7" x2="67" y2="522.7" stroke="#111" stroke-width="1.2" />
<text x="62.5" y="525.9000000000001" font-size="9" text-anchor="end" stroke="#161616" stroke-width="0.3" fill="#161616" >6</text>
<line x1="64" y1="534.9" x2="67" y2="534.9" stroke="#111" stroke-width="1.2" />
<text x="62.5" y="538.1" font-size="9" text-anchor="end" stroke="#161616" stroke-width="0.3" fill="#161616" >5</text>
<line x1="64" y1="547.1" x2="67" y2="547.1" stroke="#111" stroke-width="1.2" />
<text x="62.5" y="550.3000000000001" font-size="9" text-anchor="end" stroke="#161616" stroke-width="0.3" fill="#161616" >4</text>
<line x1="64" y1="559.3" x2="67" y2="559.3" stroke="#111" stroke-width="1.2" />
<text x="62.5" y="562.5" font-size="9" text-anchor="end" stroke="#161616" stroke-width="0.3" fill="#161616" >3</text>
<line x1="64" y1="571.4" x2="67" y2="571.4" stroke="#111" stroke-width="1.2" />
<text x="62.5" y="574.6" font-size="9" text-anchor="end" stroke="#161616" stroke-width="0.3" fill="#161616" >2</text>
<line x1="64" y1="583.6" x2="67" y2="583.6" stroke="#111" stroke-width="1.2" />
<text x="62.5" y="586.8000000000001" font-size="9" text-anchor="end" stroke="#161616" stroke-width="0.3" fill="#161616" >1</text>
<line x1="64" y1="595.8" x2="67" y2="595.8" stroke="#111" stroke-width="1.2" />
<text x="62.5" y="599.0" font-size="9" text-anchor="end" stroke="#161616" stroke-width="0.3" fill="#161616" >0</text>
<line x1="81.5" y1="582.0" x2="81.5" y2="583.8" stroke="#111" stroke-width="1.2" />
<line x1="75.964" y1="582.5" x2="87.83600000000001" y2="582.5" stroke="#111" stroke-width="1.2" />
<rect x="71.3" y="583.8" width="21.200000000000003" height="12.0" fill="#fff" stroke="#111" stroke-width="1.35" />
<line x1="81.9" y1="595.8" x2="81.9" y2="598.8" stroke="#111" stroke-width="1.2" />
<line x1="112.5" y1="562.0" x2="112.5" y2="564.5" stroke="#111" stroke-width="1.2" />
<line x1="107.07600000000001" y1="562.5" x2="118.724" y2="562.5" stroke="#111" stroke-width="1.2" />
<rect x="102.5" y="564.5" width="20.799999999999997" height="31.299999999999955" fill="#0b0b0b" stroke="#111" stroke-width="1.35" />
<line x1="112.9" y1="595.8" x2="112.9" y2="598.8" stroke="#111" stroke-width="1.2" />
<line x1="142.5" y1="520.0" x2="142.5" y2="525" stroke="#111" stroke-width="1.2" />
<line x1="137.076" y1="520.5" x2="148.72400000000002" y2="520.5" stroke="#111" stroke-width="1.2" />
<rect x="132.5" y="525" width="20.80000000000001" height="70.79999999999995" fill="#8e8e90" stroke="#111" stroke-width="1.35" />
<line x1="142.9" y1="595.8" x2="142.9" y2="598.8" stroke="#111" stroke-width="1.2" />
<text x="46.8" y="559" font-size="9.4" text-anchor="middle" textLength="51.5" lengthAdjust="spacingAndGlyphs" stroke="#161616" stroke-width="0.3" fill="#161616" transform="rotate(-90 46.8 559)">Fold change</text>
<text x="40.8" y="621" font-size="10" text-anchor="middle" font-weight="bold" stroke="#111" stroke-width="0.3" fill="#111" >g</text>
<path d="M79.5 579.5 V510.1 Q79.5 509.5 80.1 509.5 H142.9 Q143.5 509.5 143.5 510.1 V512.5" fill="none" stroke="#111" stroke-width="1.3"/>
<path d="M84.5 579.5 V549.1 Q84.5 548.5 85.1 548.5 H111.9 Q112.5 548.5 112.5 549.1 V552.8" fill="none" stroke="#111" stroke-width="1.3"/>
<text x="113.05" y="563.3" font-family="DejaVu Sans, sans-serif" font-size="13" text-anchor="middle" letter-spacing="1.1" fill="#1c1c1c" stroke="#1c1c1c" stroke-width="0.2">***</text>
<text x="143.05" y="521.3" font-family="DejaVu Sans, sans-serif" font-size="13" text-anchor="middle" letter-spacing="1.1" fill="#1c1c1c" stroke="#1c1c1c" stroke-width="0.2">****</text>
<text x="81.5" y="612.5" font-size="9.4" text-anchor="middle" stroke="#161616" stroke-width="0.3" fill="#161616" >DMSO</text>
<text x="113" y="612.5" font-size="9.4" text-anchor="middle" stroke="#161616" stroke-width="0.3" fill="#161616" >Wnt3a</text>
<text x="143.8" y="612.5" font-size="9.4" text-anchor="middle" stroke="#161616" stroke-width="0.3" fill="#161616" >CHIR-</text>
<text x="143.8" y="622.6" font-size="9" text-anchor="middle" stroke="#161616" stroke-width="0.3" fill="#161616" >99021</text>
<line x1="99.5" y1="614.5" x2="126.5" y2="614.5" stroke="#36a253" stroke-width="1.0" stroke-dasharray="1.7 0.6"/>
<line x1="131.60000000000002" y1="624.8000000000001" x2="156.60000000000002" y2="624.8000000000001" stroke="#7bd0a6" stroke-width="1.6" />
</g>
<g id="panel-h">
<text x="269.4" y="502.7" font-size="9.4" text-anchor="middle" stroke="#161616" stroke-width="0.3" fill="#161616" ><tspan font-style="italic">TCF4</tspan> transcripts 10/11</text>
<line x1="224.5" y1="518.9" x2="224.5" y2="596.5999999999999" stroke="#111" stroke-width="1.6" />
<line x1="223.7" y1="595.8" x2="312.5" y2="595.8" stroke="#111" stroke-width="1.6" />
<line x1="221.5" y1="520.3" x2="224.5" y2="520.3" stroke="#111" stroke-width="1.2" />
<text x="220.0" y="523.5" font-size="9" text-anchor="end" stroke="#161616" stroke-width="0.3" fill="#161616" >4</text>
<line x1="221.5" y1="539.2" x2="224.5" y2="539.2" stroke="#111" stroke-width="1.2" />
<text x="220.0" y="542.4000000000001" font-size="9" text-anchor="end" stroke="#161616" stroke-width="0.3" fill="#161616" >3</text>
<line x1="221.5" y1="558" x2="224.5" y2="558" stroke="#111" stroke-width="1.2" />
<text x="220.0" y="561.2" font-size="9" text-anchor="end" stroke="#161616" stroke-width="0.3" fill="#161616" >2</text>
<line x1="221.5" y1="576.9" x2="224.5" y2="576.9" stroke="#111" stroke-width="1.2" />
<text x="220.0" y="580.1" font-size="9" text-anchor="end" stroke="#161616" stroke-width="0.3" fill="#161616" >1</text>
<line x1="221.5" y1="595.8" x2="224.5" y2="595.8" stroke="#111" stroke-width="1.2" />
<text x="220.0" y="599.0" font-size="9" text-anchor="end" stroke="#161616" stroke-width="0.3" fill="#161616" >0</text>
<line x1="239.5" y1="575.0" x2="239.5" y2="577" stroke="#111" stroke-width="1.2" />
<line x1="233.464" y1="575.5" x2="245.336" y2="575.5" stroke="#111" stroke-width="1.2" />
<rect x="228.8" y="577" width="21.19999999999999" height="18.799999999999955" fill="#fff" stroke="#111" stroke-width="1.35" />
<line x1="239.4" y1="595.8" x2="239.4" y2="598.8" stroke="#111" stroke-width="1.2" />
<line x1="270.5" y1="551.0" x2="270.5" y2="553.8" stroke="#111" stroke-width="1.2" />
<line x1="264.57599999999996" y1="551.5" x2="276.224" y2="551.5" stroke="#111" stroke-width="1.2" />
<rect x="260" y="553.8" width="20.80000000000001" height="42.0" fill="#0b0b0b" stroke="#111" stroke-width="1.35" />
<line x1="270.4" y1="595.8" x2="270.4" y2="598.8" stroke="#111" stroke-width="1.2" />
<line x1="300.5" y1="527.0" x2="300.5" y2="530.3" stroke="#111" stroke-width="1.2" />
<line x1="294.57599999999996" y1="527.5" x2="306.224" y2="527.5" stroke="#111" stroke-width="1.2" />
<rect x="290" y="530.3" width="20.80000000000001" height="65.5" fill="#8e8e90" stroke="#111" stroke-width="1.35" />
<line x1="300.4" y1="595.8" x2="300.4" y2="598.8" stroke="#111" stroke-width="1.2" />
<text x="203.5" y="559" font-size="9.4" text-anchor="middle" textLength="51.5" lengthAdjust="spacingAndGlyphs" stroke="#161616" stroke-width="0.3" fill="#161616" transform="rotate(-90 203.5 559)">Fold change</text>
<text x="200.8" y="622.5" font-size="10" text-anchor="middle" font-weight="bold" stroke="#111" stroke-width="0.3" fill="#111" >h</text>
<path d="M237.5 572 V513.1 Q237.5 512.5 238.1 512.5 H299.9 Q300.5 512.5 300.5 513.1 V516.3" fill="none" stroke="#111" stroke-width="1.3"/>
<path d="M242.5 572 V537.1 Q242.5 536.5 243.1 536.5 H269.9 Q270.5 536.5 270.5 537.1 V541.3" fill="none" stroke="#111" stroke-width="1.3"/>
<text x="270.05" y="552.5" font-family="DejaVu Sans, sans-serif" font-size="13" text-anchor="middle" letter-spacing="1.1" fill="#1c1c1c" stroke="#1c1c1c" stroke-width="0.2">****</text>
<text x="300.55" y="528.3" font-family="DejaVu Sans, sans-serif" font-size="13" text-anchor="middle" letter-spacing="1.1" fill="#1c1c1c" stroke="#1c1c1c" stroke-width="0.2">****</text>
<text x="239.3" y="612.5" font-size="9.4" text-anchor="middle" stroke="#161616" stroke-width="0.3" fill="#161616" >DMSO</text>
<text x="270.5" y="612.5" font-size="9.4" text-anchor="middle" stroke="#161616" stroke-width="0.3" fill="#161616" >Wnt3a</text>
<text x="300.5" y="612.5" font-size="9.4" text-anchor="middle" stroke="#161616" stroke-width="0.3" fill="#161616" >CHIR-</text>
<text x="300.5" y="622.6" font-size="9" text-anchor="middle" stroke="#161616" stroke-width="0.3" fill="#161616" >99021</text>
<line x1="257.0" y1="614.5" x2="284.0" y2="614.5" stroke="#36a253" stroke-width="1.0" stroke-dasharray="1.7 0.6"/>
<line x1="288.3" y1="624.8000000000001" x2="313.3" y2="624.8000000000001" stroke="#7bd0a6" stroke-width="1.6" />
</g>
<g id="panel-i">
<text x="433.8" y="502.7" font-size="9.4" text-anchor="middle" stroke="#161616" stroke-width="0.3" fill="#161616" ><tspan font-style="italic">AXIN2</tspan> mRNA</text>
<line x1="389.5" y1="539.6" x2="389.5" y2="596.6" stroke="#111" stroke-width="1.6" />
<line x1="389.5" y1="520" x2="389.5" y2="535.4" stroke="#111" stroke-width="1.6" />
<line x1="388.7" y1="595.8" x2="478" y2="595.8" stroke="#111" stroke-width="1.6" />
<line x1="385.8" y1="520.6" x2="389.5" y2="520.6" stroke="#111" stroke-width="1.2" />
<text x="382" y="523.8000000000001" font-size="9" text-anchor="end" stroke="#161616" stroke-width="0.3" fill="#161616" >20</text>
<line x1="385.8" y1="527.8" x2="389.5" y2="527.8" stroke="#111" stroke-width="1.2" />
<text x="382" y="531.0" font-size="9" text-anchor="end" stroke="#161616" stroke-width="0.3" fill="#161616" >15</text>
<text x="382" y="542.8000000000001" font-size="9" text-anchor="end" stroke="#161616" stroke-width="0.3" fill="#161616" >3</text>
<line x1="385.8" y1="558.4" x2="389.5" y2="558.4" stroke="#111" stroke-width="1.2" />
<text x="382" y="561.6" font-size="9" text-anchor="end" stroke="#161616" stroke-width="0.3" fill="#161616" >2</text>
<line x1="385.8" y1="577.3" x2="389.5" y2="577.3" stroke="#111" stroke-width="1.2" />
<text x="382" y="580.5" font-size="9" text-anchor="end" stroke="#161616" stroke-width="0.3" fill="#161616" >1</text>
<line x1="385.8" y1="595.8" x2="389.5" y2="595.8" stroke="#111" stroke-width="1.2" />
<text x="382" y="599.0" font-size="9" text-anchor="end" stroke="#161616" stroke-width="0.3" fill="#161616" >0</text>
<line x1="385.8" y1="535.4" x2="393.1" y2="535.4" stroke="#111" stroke-width="1.3" />
<line x1="385.8" y1="539.6" x2="393.1" y2="539.6" stroke="#111" stroke-width="1.3" />
<line x1="404.5" y1="576.0" x2="404.5" y2="577" stroke="#111" stroke-width="1.2" />
<line x1="398.464" y1="576.5" x2="410.33599999999996" y2="576.5" stroke="#111" stroke-width="1.2" />
<rect x="393.8" y="577" width="21.19999999999999" height="18.799999999999955" fill="#fff" stroke="#111" stroke-width="1.35" />
<line x1="404.4" y1="595.8" x2="404.4" y2="598.8" stroke="#111" stroke-width="1.2" />
<line x1="435.5" y1="543.0" x2="435.5" y2="546.5" stroke="#111" stroke-width="1.2" />
<line x1="429.57599999999996" y1="543.5" x2="441.224" y2="543.5" stroke="#111" stroke-width="1.2" />
<rect x="425" y="546.5" width="20.80000000000001" height="49.299999999999955" fill="#0b0b0b" stroke="#111" stroke-width="1.35" />
<line x1="435.4" y1="595.8" x2="435.4" y2="598.8" stroke="#111" stroke-width="1.2" />
<line x1="465.5" y1="524.0" x2="465.5" y2="526.3" stroke="#111" stroke-width="1.2" />
<line x1="459.57599999999996" y1="524.5" x2="471.224" y2="524.5" stroke="#111" stroke-width="1.2" />
<rect x="455" y="526.3" width="20.80000000000001" height="69.5" fill="#8e8e90" stroke="#111" stroke-width="1.35" />
<line x1="465.4" y1="595.8" x2="465.4" y2="598.8" stroke="#111" stroke-width="1.2" />
<rect x="452" y="535.2" width="27" height="3.8" fill="#fff"/>
<text x="364.3" y="558" font-size="9.4" text-anchor="middle" stroke="#161616" stroke-width="0.3" fill="#161616" transform="rotate(-90 364.3 558)">Fold change</text>
<text x="361.3" y="622.5" font-size="10" text-anchor="middle" font-weight="bold" stroke="#111" stroke-width="0.3" fill="#111" >i</text>
<path d="M402.5 573.3 V510.1 Q402.5 509.5 403.1 509.5 H464.9 Q465.5 509.5 465.5 510.1 V513.3" fill="none" stroke="#111" stroke-width="1.3"/>
<path d="M407.5 573.3 V525.1 Q407.5 524.5 408.1 524.5 H434.9 Q435.5 524.5 435.5 525.1 V528.8" fill="none" stroke="#111" stroke-width="1.3"/>
<text x="433.8" y="538.9" font-size="9.4" text-anchor="middle" stroke="#161616" stroke-width="0.3" fill="#161616" >NS</text>
<text x="465.55" y="525.0" font-family="DejaVu Sans, sans-serif" font-size="13" text-anchor="middle" letter-spacing="1.1" fill="#1c1c1c" stroke="#1c1c1c" stroke-width="0.2">****</text>
<text x="403.8" y="612.5" font-size="9.4" text-anchor="middle" stroke="#161616" stroke-width="0.3" fill="#161616" >DMSO</text>
<text x="434.3" y="612.5" font-size="9.4" text-anchor="middle" stroke="#161616" stroke-width="0.3" fill="#161616" >Wnt3a</text>
<text x="465.5" y="612.5" font-size="9.4" text-anchor="middle" stroke="#161616" stroke-width="0.3" fill="#161616" >CHIR-</text>
<text x="465.5" y="622.6" font-size="9" text-anchor="middle" stroke="#161616" stroke-width="0.3" fill="#161616" >99021</text>
<line x1="420.8" y1="614.5" x2="447.8" y2="614.5" stroke="#36a253" stroke-width="1.0" stroke-dasharray="1.7 0.6"/>
<line x1="453.3" y1="624.8000000000001" x2="478.3" y2="624.8000000000001" stroke="#7bd0a6" stroke-width="1.6" />
</g>
</svg>
</body>
</html>
